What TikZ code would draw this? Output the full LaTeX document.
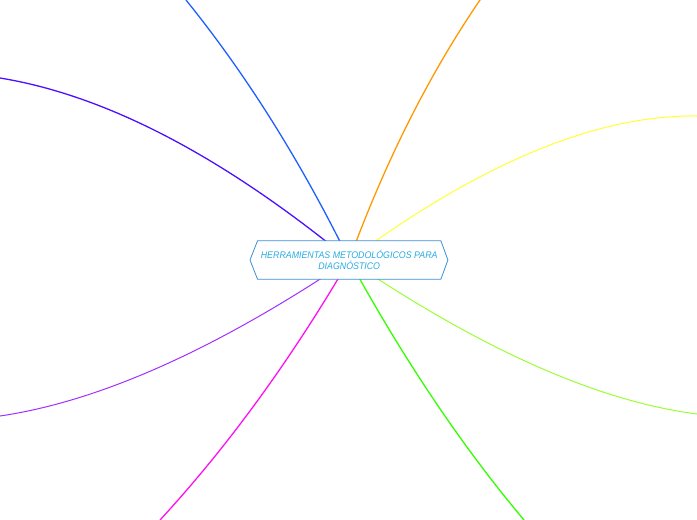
\documentclass[tikz,border=0pt]{standalone}
\usepackage{fontspec}
\setmainfont{Liberation Sans}
\newfontfamily\titlefont[FakeStretch=0.92]{Liberation Sans}
\usetikzlibrary{calc,backgrounds}
\definecolor{cblue}{HTML}{1F5FFF}
\definecolor{cindigo}{HTML}{4D10FF}
\definecolor{corange}{HTML}{FF9900}
\definecolor{cyellow}{HTML}{FFFF33}
\definecolor{cyg}{HTML}{99FF33}
\definecolor{cgreen}{HTML}{33FF00}
\definecolor{cmagenta}{HTML}{FF10F0}
\definecolor{cpurple}{HTML}{A030FF}
\definecolor{ctext}{HTML}{29ABE2}
\definecolor{cborder}{HTML}{3D8FD9}
\tikzset{
  branch/.style={line width=1.3pt, line cap=round},
  thinbranch/.style={line width=1pt, line cap=round},
  central/.style={minimum width=183pt, minimum height=38pt, inner sep=0pt,
    align=center, text=ctext, font=\titlefont\itshape\fontsize{9.6}{11.5}\selectfont},
  hexa/.style={draw=cborder, fill=white, line width=0.8pt}
}
\begin{document}
\begin{tikzpicture}[x=1pt,y=-1pt]
\useasboundingbox (0,0) rectangle (697,520);
\node[central] (c) at (349.2,260) {HERRAMIENTAS METODOLÓGICOS PARA\\DIAGNÓSTICO};
% free ends and guide points
\coordinate (e1) at (186,0);   \coordinate (q1) at (276.5,112);
\coordinate (e2) at (0,78);    \coordinate (q2) at (159,104);
\coordinate (e3) at (480,0);   \coordinate (q3) at (403.5,112);
\coordinate (e4) at (697,116); \coordinate (q4) at (547,114);
\coordinate (e5) at (697,414); \coordinate (q5) at (549,395);
\coordinate (e6) at (524,520); \coordinate (q6) at (431.5,410);
\coordinate (e7) at (160,520); \coordinate (q7) at (261.5,410);
\coordinate (e8) at (0,416);   \coordinate (q8) at (149.5,394);
\begin{scope}[on background layer]
\foreach \i/\col/\st in {1/cblue/branch,2/cindigo/branch,3/corange/branch,4/cyellow/thinbranch,5/cyg/thinbranch,6/cgreen/branch,7/cmagenta/branch,8/cpurple/thinbranch}{
  \draw[\st,draw=\col] (c.center) .. controls ($(c.center)!2/3!(q\i)$) and ($(e\i)!2/3!(q\i)$) .. (e\i);
}
\draw[hexa] (c.north west) -- (c.north east) -- ($(c.east)+(7,0)$) -- (c.south east)
  -- (c.south west) -- ($(c.west)+(-7.5,0)$) -- cycle;
\end{scope}
\end{tikzpicture}
\end{document}
